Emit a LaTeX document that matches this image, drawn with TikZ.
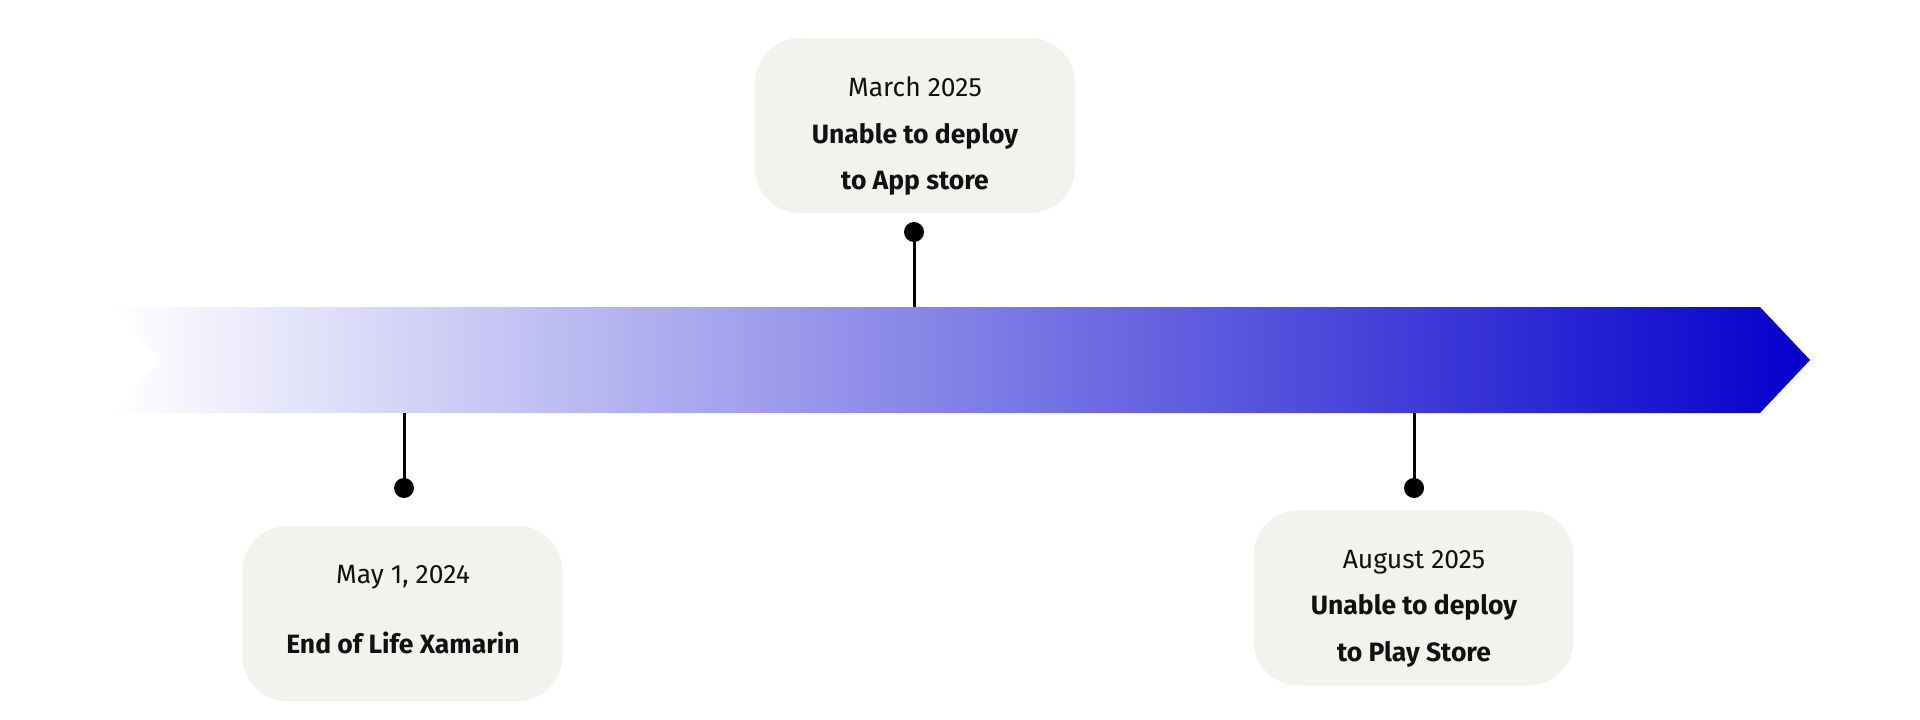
\documentclass[tikz,border=0pt]{standalone}
\usepackage{fontspec}
\setmainfont{Fira Sans}
\definecolor{tlblue}{RGB}{4,0,204}
\definecolor{boxfill}{RGB}{243,242,239}
\definecolor{ink}{RGB}{17,17,17}
\begin{document}
\begin{tikzpicture}[x=1pt,y=-1pt,
  evbox/.style={fill=boxfill, rounded corners=45pt, minimum width=320pt, minimum height=175pt, inner sep=0pt},
  evtext/.style={text=ink, align=center, font=\fontsize{26.5}{46.5}\selectfont, inner sep=0pt},
  dotmark/.style={circle, fill=black, minimum size=20pt, inner sep=0pt},
  stem/.style={line width=3pt, draw=black}]
\useasboundingbox (0,0) rectangle (1920,720);
% timeline band
\shade[left color=white, right color=tlblue]
  (113,307) -- (1760,307) -- (1810,360) -- (1760,413) -- (113,413) -- (161,360) -- cycle;
% event 1 (top)
\coordinate (a1) at (914,307);
\node[evbox] (b1) at (915,125.5) {};
\node[dotmark] (d1) at (914,232) {};
\draw[stem] (d1.center) -- (a1);
\node[evtext] (x1) at (915,136.5) {March 2025\\\textbf{Unable to deploy}\\\textbf{to App store}};
% event 2 (bottom left)
\coordinate (a2) at (404,413);
\node[evbox] (b2) at (402.5,613.5) {};
\node[dotmark] (d2) at (404,488) {};
\draw[stem] (a2) -- (d2.center);
\node[evtext] (x2) at (403,610) {May 1, 2024\\[23.5pt]\textbf{End of Life Xamarin}};
% event 3 (bottom right)
\coordinate (a3) at (1414,413);
\node[evbox] (b3) at (1413.5,598) {};
\node[dotmark] (d3) at (1414,488) {};
\draw[stem] (a3) -- (d3.center);
\node[evtext] (x3) at (1414,608.5) {August 2025\\\textbf{Unable to deploy}\\\textbf{to Play Store}};
\end{tikzpicture}
\end{document}
